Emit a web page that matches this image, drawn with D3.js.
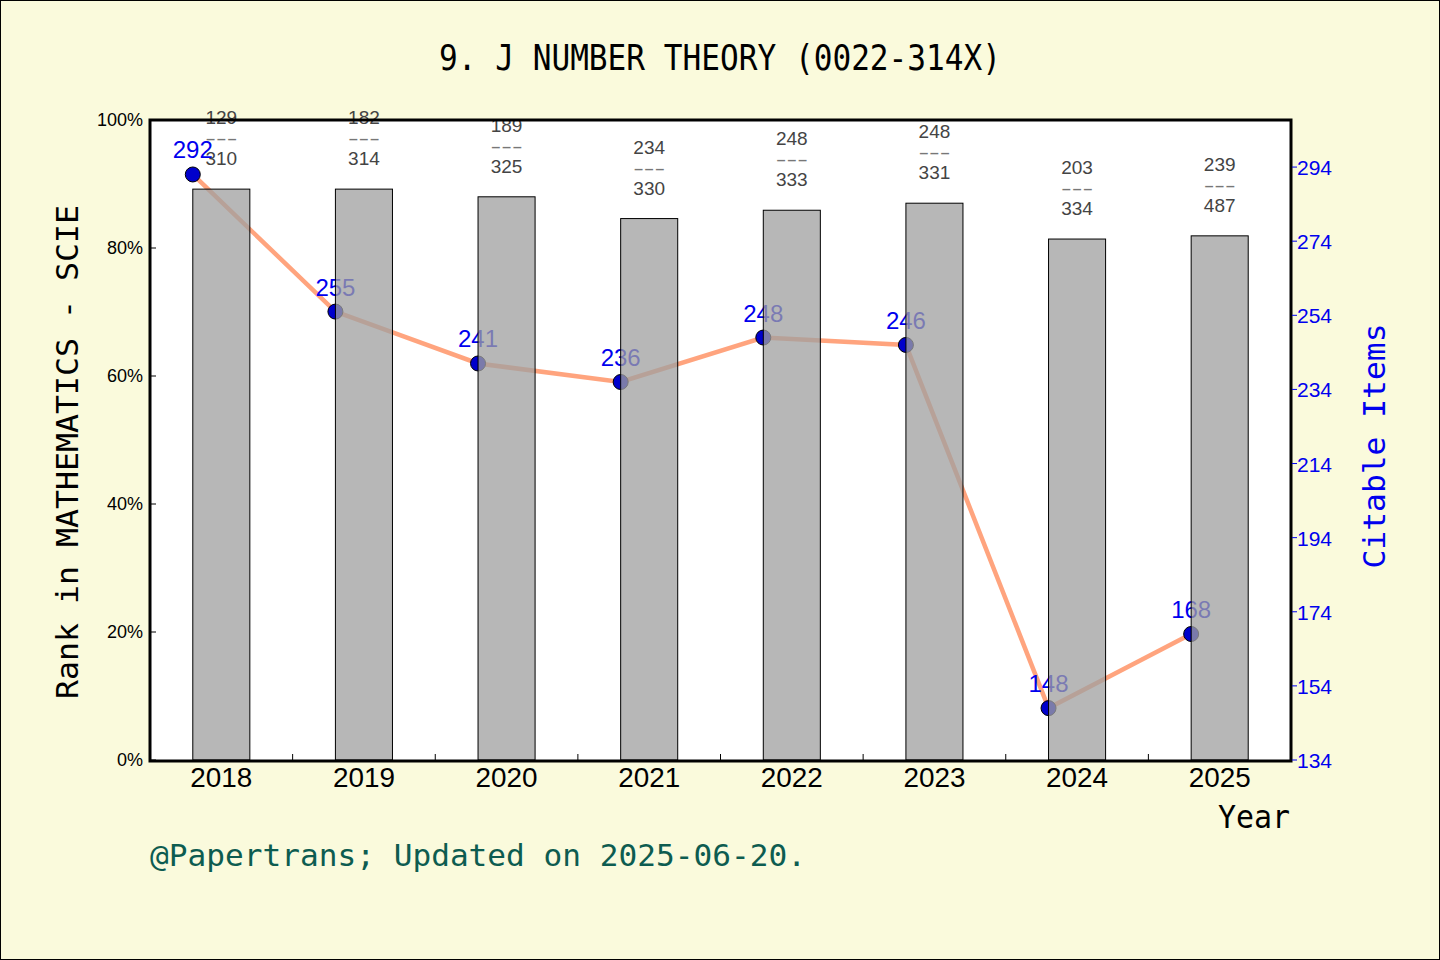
<!DOCTYPE html>
<html>
<head>
<meta charset="utf-8">
<script src="https://cdn.jsdelivr.net/npm/d3@7"></script>
<style>
  body { margin: 0; background: #fafadc; }
  svg { display: block; }
</style>
</head>
<body>
<script>
// data
const years = ["2018", "2019", "2020", "2021", "2022", "2023", "2024", "2025"];
const rankShare = [0.892, 0.892, 0.880, 0.846, 0.859, 0.870, 0.814, 0.819];
const rankPos = [129, 182, 189, 234, 248, 248, 203, 239];
const rankTotal = [310, 314, 325, 330, 333, 331, 334, 487];
const citable = [292, 255, 241, 236, 248, 246, 148, 168];
const leftTicks = [0, 0.2, 0.4, 0.6, 0.8, 1.0];
const rightTicks = [134, 154, 174, 194, 214, 234, 254, 274, 294];

const width = 1440;
const height = 960;
const marginLeft = 150;
const marginRight = 149;
const marginTop = 120;
const marginBottom = 200;
const plotW = width - marginLeft - marginRight;
const plotH = height - marginTop - marginBottom;

const monoFont = "'DejaVu Sans Mono', monospace";
const sansFont = "'Liberation Sans', Arial, sans-serif";

const svg = d3.select('body')
  .append('svg')
  .attr('width', width)
  .attr('height', height);

svg.append('rect')
  .attr('x', 0.5).attr('y', 0.5)
  .attr('width', width - 1).attr('height', height - 1)
  .attr('fill', '#fafadc')
  .attr('stroke', '#000');

// scales
const x = d3.scaleBand()
  .domain(years)
  .range([marginLeft, marginLeft + plotW])
  .padding(0);
const y = d3.scaleLinear()
  .domain([0, 1])
  .range([marginTop + plotH, marginTop]);
const y2 = d3.scaleLinear()
  .domain([134, 306.7])
  .range([marginTop + plotH, marginTop]);

// plot background
svg.append('rect')
  .attr('x', marginLeft).attr('y', marginTop)
  .attr('width', plotW).attr('height', plotH)
  .attr('fill', '#fff');

const rows = years.map((yr, i) => ({
  year: yr, share: rankShare[i], pos: rankPos[i], total: rankTotal[i], cit: citable[i]
}));

// line + points + labels first (bars are drawn over them, semi-transparent)
const px = d => x(d.year) + x.bandwidth() * 0.3;

svg.append('path')
  .datum(rows)
  .attr('fill', 'none')
  .attr('stroke', '#ff9a70')
  .attr('stroke-opacity', 0.9)
  .attr('stroke-width', 4.5)
  .attr('d', d3.line().x(px).y(d => y2(d.cit)));

svg.selectAll('circle.pt')
  .data(rows)
  .enter().append('circle')
  .attr('class', 'pt')
  .attr('cx', px)
  .attr('cy', d => y2(d.cit))
  .attr('r', 7.5)
  .attr('fill', '#0000cc')
  .attr('stroke', '#000')
  .attr('stroke-width', 1);

svg.selectAll('text.pt')
  .data(rows)
  .enter().append('text')
  .attr('class', 'pt')
  .attr('x', px)
  .attr('y', d => y2(d.cit) - 16)
  .attr('text-anchor', 'middle')
  .attr('font-family', sansFont)
  .attr('font-size', 24)
  .attr('fill', '#0000ee')
  .text(d => d.cit);

// bars
const barW = x.bandwidth() * 0.4;
svg.selectAll('rect.bar')
  .data(rows)
  .enter().append('rect')
  .attr('class', 'bar')
  .attr('x', d => x(d.year) + x.bandwidth() / 2 - barW / 2)
  .attr('y', d => y(d.share))
  .attr('width', barW)
  .attr('height', d => y(0) - y(d.share))
  .attr('fill', 'rgb(160,160,161)')
  .attr('fill-opacity', 0.76)
  .attr('stroke', '#000')
  .attr('stroke-width', 1);

// bar labels: rank / total
const bl = svg.selectAll('g.blab')
  .data(rows)
  .enter().append('g')
  .attr('class', 'blab')
  .attr('transform', d => `translate(${x(d.year) + x.bandwidth() / 2},${y(d.share)})`)
  .attr('font-family', sansFont)
  .attr('font-size', 19)
  .attr('text-anchor', 'middle');
bl.append('text').attr('y', -65).attr('fill', '#444').text(d => d.pos);
bl.append('text').attr('y', -44).attr('fill', '#777')
  .attr('textLength', 32)
  .attr('lengthAdjust', 'spacingAndGlyphs')
  .text('---');
bl.append('text').attr('y', -24).attr('fill', '#444').text(d => d.total);

// frame
svg.append('rect')
  .attr('x', marginLeft).attr('y', marginTop)
  .attr('width', plotW).attr('height', plotH + 1)
  .attr('fill', 'none')
  .attr('stroke', '#000')
  .attr('stroke-width', 3);

// left axis
const gl = svg.append('g');
leftTicks.forEach(t => {
  gl.append('line')
    .attr('x1', marginLeft).attr('x2', marginLeft + 6)
    .attr('y1', y(t)).attr('y2', y(t))
    .attr('stroke', '#000');
  gl.append('text')
    .attr('x', marginLeft - 7).attr('y', y(t) + 6)
    .attr('text-anchor', 'end')
    .attr('font-family', sansFont)
    .attr('font-size', 18)
    .text(d3.format('.0%')(t));
});

// right axis
const gr = svg.append('g');
rightTicks.forEach(t => {
  gr.append('line')
    .attr('x1', marginLeft + plotW + 1).attr('x2', marginLeft + plotW + 6)
    .attr('y1', y2(t)).attr('y2', y2(t))
    .attr('stroke', '#0000ee');
  gr.append('text')
    .attr('x', marginLeft + plotW + 6).attr('y', y2(t) + 8)
    .attr('font-family', sansFont)
    .attr('font-size', 21)
    .attr('fill', '#0000ee')
    .text(t);
});

// bottom axis
const gb = svg.append('g');
years.forEach((yr, i) => {
  gb.append('text')
    .attr('x', x(yr) + x.bandwidth() / 2).attr('y', y(0) + 27)
    .attr('text-anchor', 'middle')
    .attr('font-family', sansFont)
    .attr('font-size', 27)
    .attr('textLength', 62)
    .attr('lengthAdjust', 'spacingAndGlyphs')
    .text(yr);
  if (i > 0) {
    gb.append('line')
      .attr('x1', x(yr)).attr('x2', x(yr))
      .attr('y1', y(0)).attr('y2', y(0) - 6)
      .attr('stroke', '#000');
  }
});

// titles
svg.append('text')
  .attr('x', 720).attr('y', 70)
  .attr('text-anchor', 'middle')
  .attr('font-family', monoFont)
  .attr('font-size', 36)
  .attr('textLength', 562)
  .attr('lengthAdjust', 'spacingAndGlyphs')
  .text('9. J NUMBER THEORY (0022-314X)');

svg.append('text')
  .attr('transform', 'translate(78,452) rotate(-90)')
  .attr('text-anchor', 'middle')
  .attr('font-family', monoFont)
  .attr('font-size', 30)
  .attr('textLength', 494)
  .attr('lengthAdjust', 'spacingAndGlyphs')
  .text('Rank in MATHEMATICS - SCIE');

svg.append('text')
  .attr('transform', 'translate(1385,446) rotate(-90)')
  .attr('text-anchor', 'middle')
  .attr('font-family', monoFont)
  .attr('font-size', 30)
  .attr('textLength', 245)
  .attr('lengthAdjust', 'spacingAndGlyphs')
  .attr('fill', '#0000ee')
  .text('Citable Items');

svg.append('text')
  .attr('x', 1290).attr('y', 828)
  .attr('text-anchor', 'end')
  .attr('font-family', monoFont)
  .attr('font-size', 32)
  .attr('textLength', 72)
  .attr('lengthAdjust', 'spacingAndGlyphs')
  .text('Year');

svg.append('text')
  .attr('x', 150).attr('y', 866)
  .attr('font-family', monoFont)
  .attr('font-size', 31)
  .attr('textLength', 656)
  .attr('lengthAdjust', 'spacingAndGlyphs')
  .attr('fill', '#0d5c50')
  .text('@Papertrans; Updated on 2025-06-20.');
</script>
</body>
</html>
